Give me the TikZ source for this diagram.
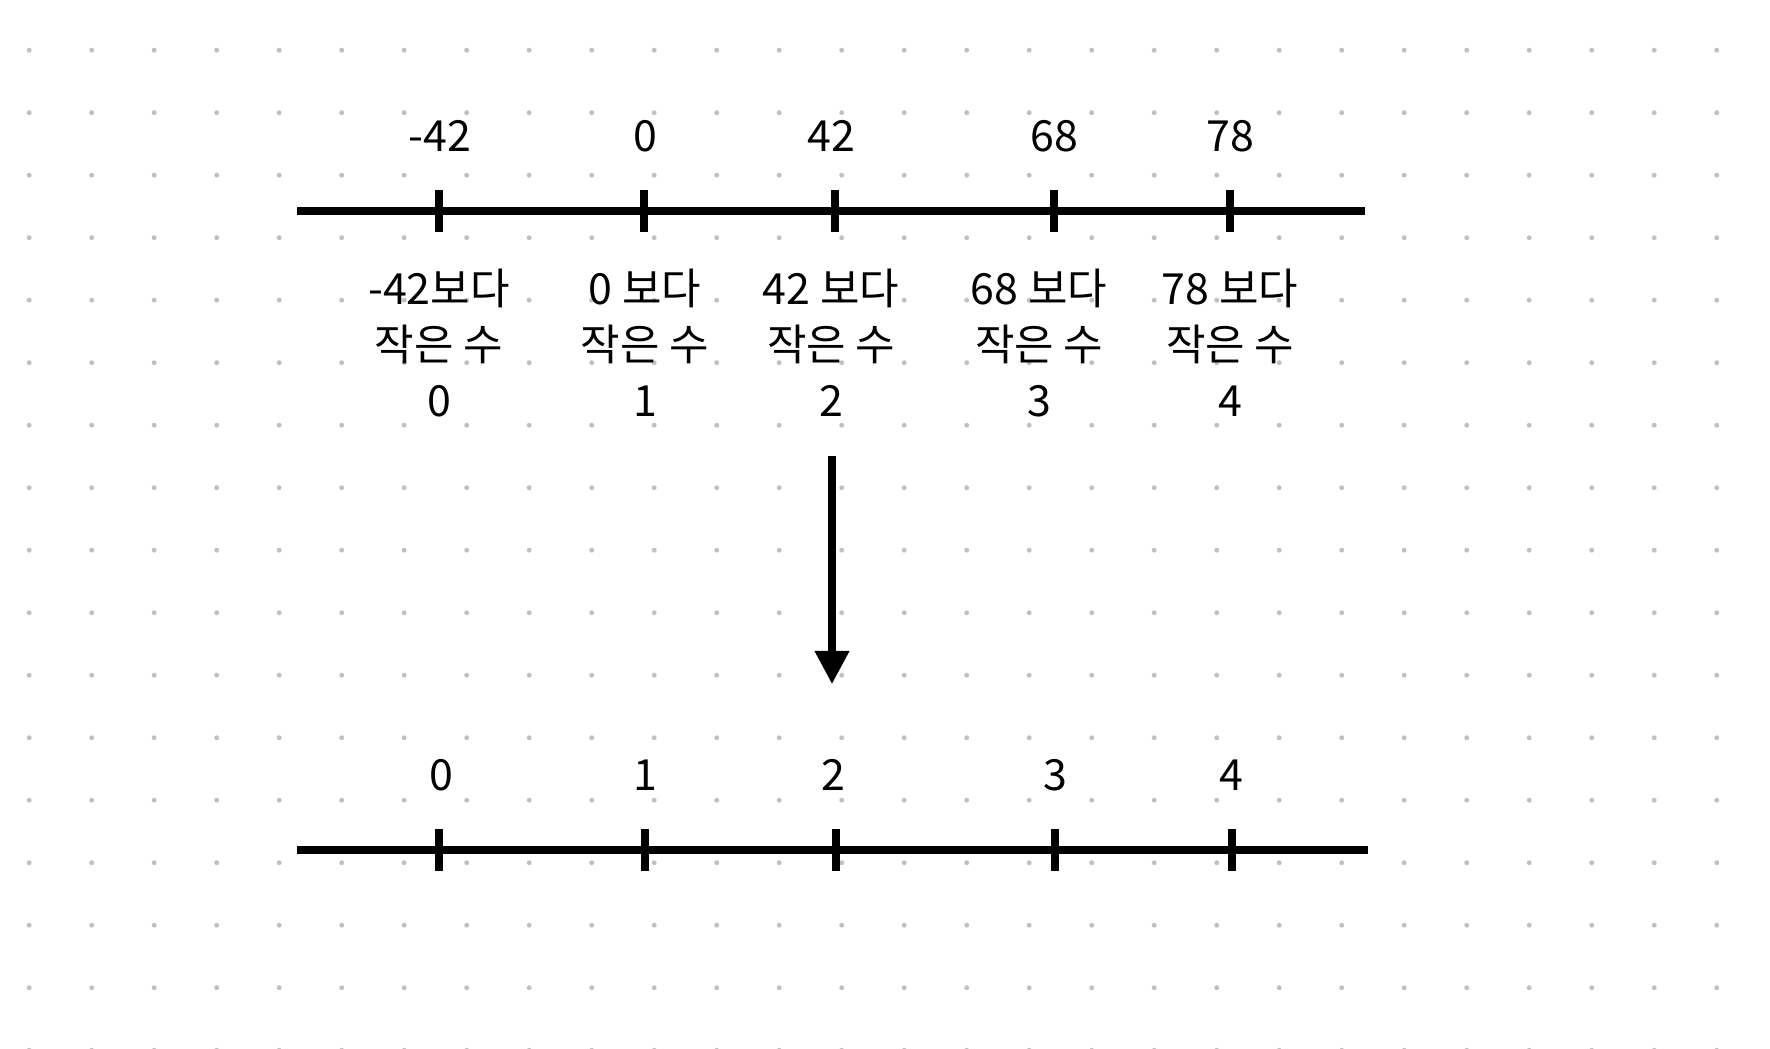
\documentclass[tikz,border=0pt]{standalone}
\usepackage{fontspec}
\setmainfont{Noto Sans CJK KR}
\usetikzlibrary{arrows.meta}
\definecolor{dotgray}{RGB}{192,192,192}
\tikzset{
  axisline/.style={line width=2.3pt},
  tickmark/.style={line width=2.3pt},
  lbl/.style={font=\fontsize{12.2pt}{15.9pt}\selectfont,inner sep=0pt,anchor=base,align=center},
}
\begin{document}
\begin{tikzpicture}[x=0.01cm,y=-0.01cm]
\fill[white] (0,0) rectangle (1770,1048);
\useasboundingbox (0,0) rectangle (1770,1048);
% dot grid
\foreach \i in {0,...,27}{\foreach \j in {0,...,16}{\fill[dotgray](29.2+62.5*\i,50.2+62.5*\j)circle(0.7pt);}}
% upper axis
\coordinate (u0) at (297,211);
\coordinate (u1) at (1365,211);
\draw[axisline] (u0)--(u1);
\foreach \x/\lx/\v/\bx/\w [count=\i from 0] in {439/440/-42/439/-42보다, 644/645/0/645/0 보다, 835/831/42/831/42 보다, 1054/1054/68/1039/68 보다, 1230/1230/78/1230/78 보다}{
  \draw[tickmark] (\x,190)--(\x,232);
  \node[lbl] (top\i) at (\lx,151.7) {\v};
  % base of a multi-line node is its last line
  \node[lbl] (less\i) at (\bx,416.7) {\w\\작은 수\\\i};
}
% arrow
\coordinate (a0) at (832,456);
\coordinate (a1) at (832,684);
\draw[line width=2pt,-{Triangle[length=0.33cm,width=0.33cm]}] (a0)--(a1);
% lower axis
\coordinate (l0) at (297,850);
\coordinate (l1) at (1368,850);
\draw[axisline] (l0)--(l1);
\foreach \x/\lx [count=\i from 0] in {439/441, 645/645, 836/833, 1055/1055, 1232/1231}{
  \draw[tickmark] (\x,829)--(\x,871);
  \node[lbl] (bot\i) at (\lx,790.5) {\i};
}
\end{tikzpicture}
\end{document}
